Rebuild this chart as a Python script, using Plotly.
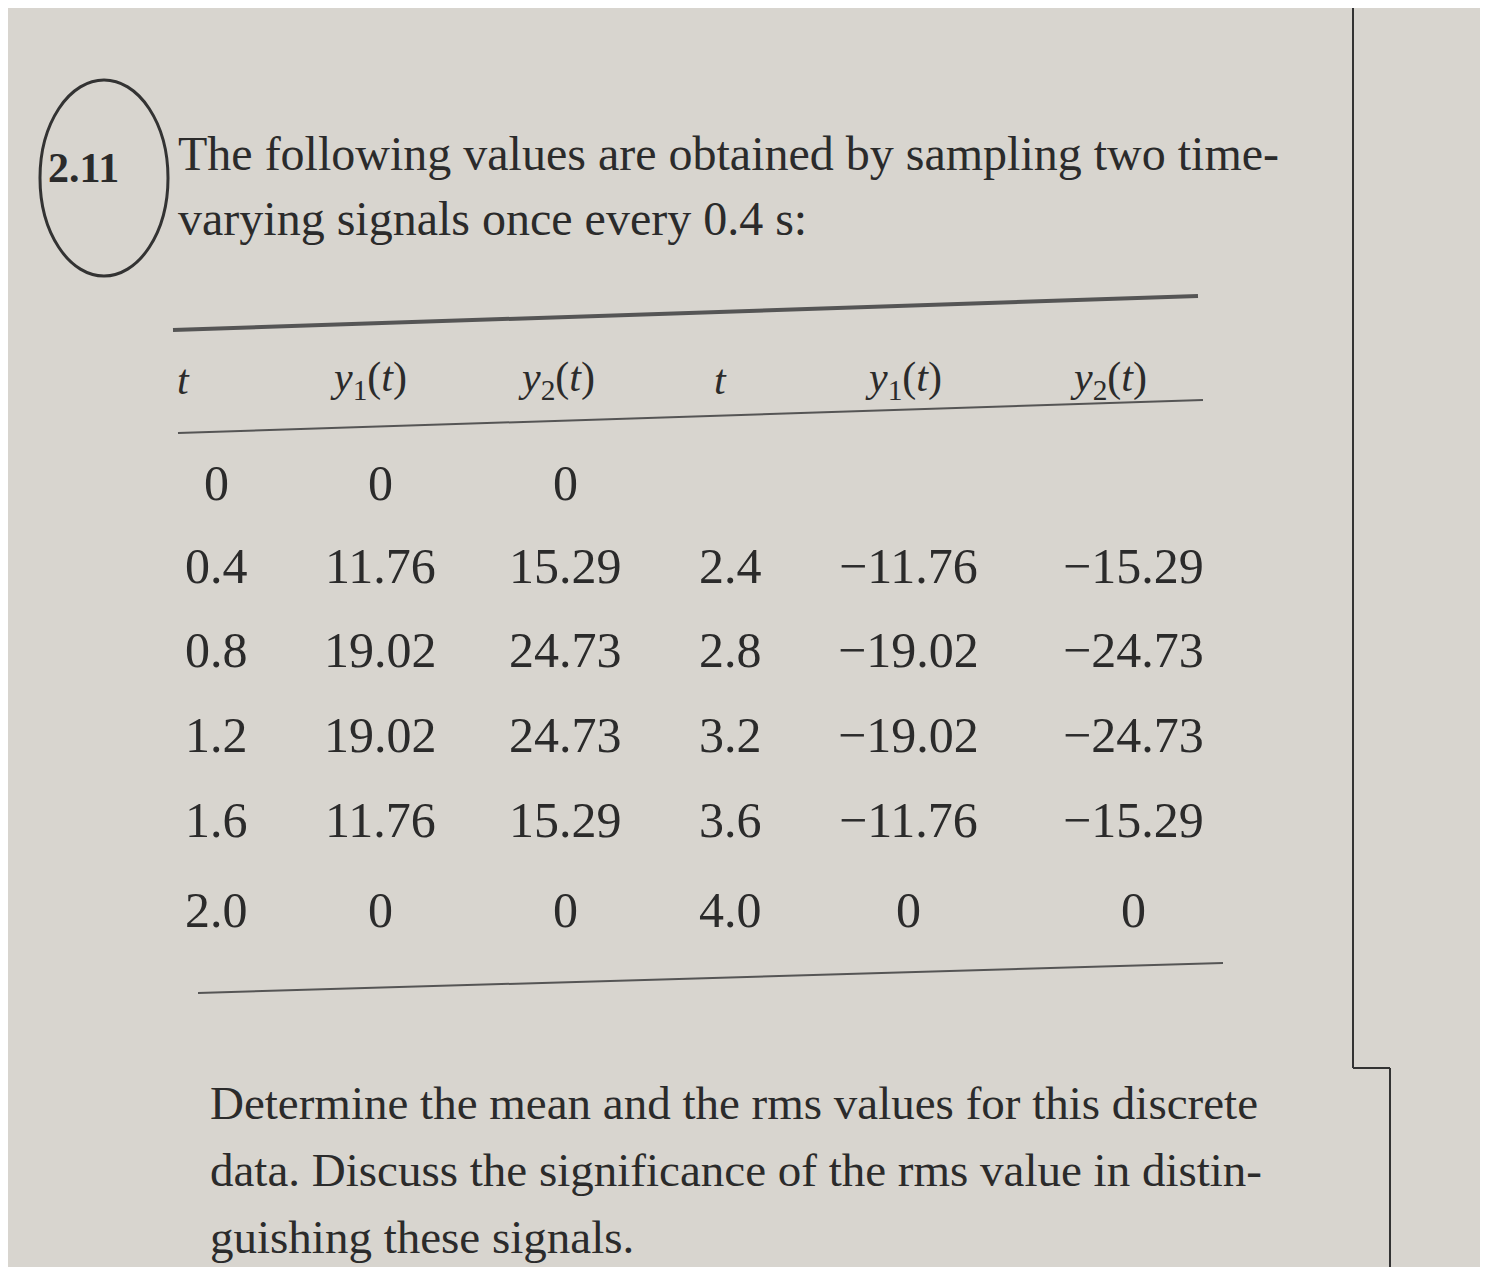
import plotly.graph_objects as go

# ---- data ----
t_left = ["0", "0.4", "0.8", "1.2", "1.6", "2.0"]
y1_left = ["0", "11.76", "19.02", "19.02", "11.76", "0"]
y2_left = ["0", "15.29", "24.73", "24.73", "15.29", "0"]
t_right = ["", "2.4", "2.8", "3.2", "3.6", "4.0"]
y1_right = ["", "−11.76", "−19.02", "−19.02", "−11.76", "0"]
y2_right = ["", "−15.29", "−24.73", "−24.73", "−15.29", "0"]
headers = ["<i>t</i>", "<i>y</i><sub>1</sub>(<i>t</i>)", "<i>y</i><sub>2</sub>(<i>t</i>)",
           "<i>t</i>", "<i>y</i><sub>1</sub>(<i>t</i>)", "<i>y</i><sub>2</sub>(<i>t</i>)"]
title_lines = ["The following values are obtained by sampling two time-",
               "varying signals once every 0.4 s:"]
footer_lines = ["Determine the mean and the rms values for this discrete",
                "data. Discuss the significance of the rms value in distin-",
                "guishing these signals."]

columns = [t_left, y1_left, y2_left, t_right, y1_right, y2_right]
col_x = [208, 372, 557, 722, 900, 1125]
header_x = [175, 360, 548, 712, 895, 1100]
row_y = [475, 558, 642, 727, 812, 902]

FONT = "Liberation Serif"
INK = "#2b2b2b"
fig = go.Figure()
ann = []

ann.append(dict(x=38, y=160, text="<b>2.11</b>", xanchor="left", yanchor="middle",
                showarrow=False, font=dict(family=FONT, size=42, color=INK)))
for i, line in enumerate(title_lines):
    ann.append(dict(x=168, y=145 + 65 * i, text=line, xanchor="left", yanchor="middle",
                    showarrow=False, font=dict(family=FONT, size=48, color=INK)))
for hx, h in zip(header_x, headers):
    ann.append(dict(x=hx, y=372, text=h, xanchor="center", yanchor="middle",
                    showarrow=False, font=dict(family=FONT, size=42, color=INK)))
for cx, col in zip(col_x, columns):
    for ry, v in zip(row_y, col):
        if v:
            ann.append(dict(x=cx, y=ry, text=v, xanchor="center", yanchor="middle",
                            showarrow=False, font=dict(family=FONT, size=50, color=INK)))
for i, line in enumerate(footer_lines):
    ann.append(dict(x=200, y=1095 + 67 * i, text=line, xanchor="left", yanchor="middle",
                    showarrow=False, font=dict(family=FONT, size=47, color=INK)))

shapes = [
    dict(type="line", x0=165, x1=1190, y0=322, y1=288, line=dict(color="#555", width=4)),
    dict(type="line", x0=170, x1=1195, y0=425, y1=392, line=dict(color="#555", width=2)),
    dict(type="line", x0=190, x1=1215, y0=985, y1=955, line=dict(color="#555", width=2)),
    dict(type="line", x0=1345, x1=1345, y0=0, y1=1060, line=dict(color="#333", width=2)),
    dict(type="line", x0=1382, x1=1382, y0=1060, y1=1267, line=dict(color="#333", width=2)),
    dict(type="line", x0=1345, x1=1382, y0=1060, y1=1060, line=dict(color="#333", width=2)),
    dict(type="circle", x0=32, x1=160, y0=72, y1=268, line=dict(color="#333", width=3)),
]

fig.update_layout(
    width=1488, height=1267, margin=dict(l=0, r=0, t=0, b=0),
    paper_bgcolor="#d8d5cf", plot_bgcolor="#d8d5cf",
    xaxis=dict(range=[0, 1488], visible=False, fixedrange=True),
    yaxis=dict(range=[1267, 0], visible=False, fixedrange=True),
    annotations=ann, shapes=shapes, showlegend=False,
)
fig.write_html("out.html")
